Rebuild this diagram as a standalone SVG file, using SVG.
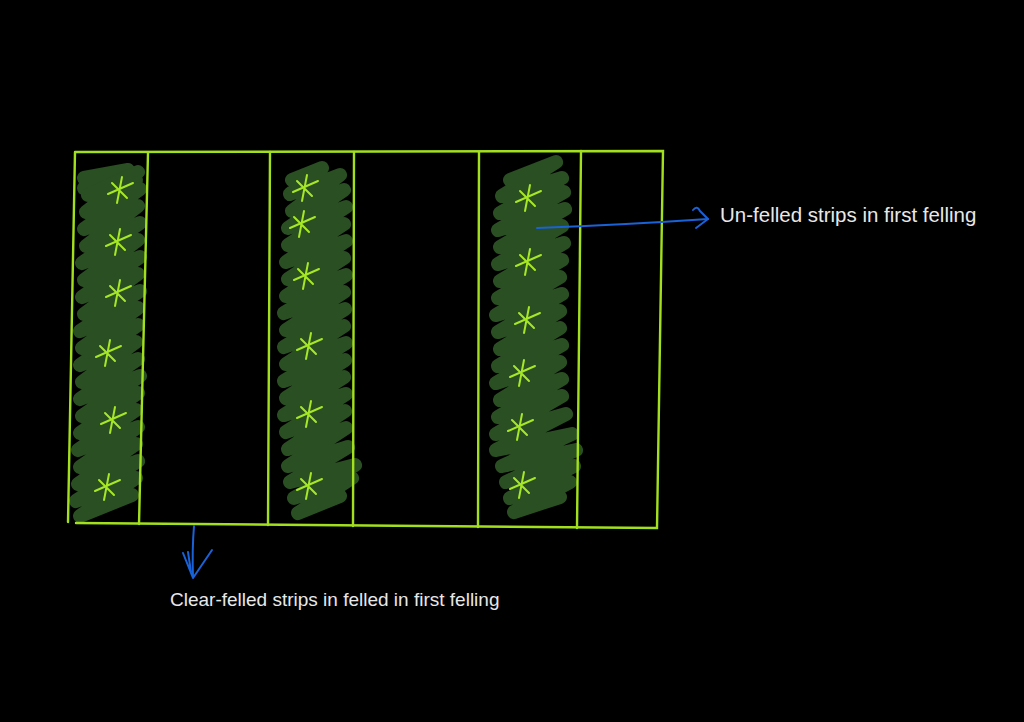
<svg xmlns="http://www.w3.org/2000/svg" width="1024" height="722" viewBox="0 0 1024 722">
<style>
.frame{fill:none;stroke:#a2e01e;stroke-width:2.4;stroke-linecap:round}
.scrib{fill:none;stroke:#2a4f22;stroke-width:14;stroke-linecap:round;stroke-linejoin:round}
.star{fill:none;stroke:#a6e825;stroke-width:2;stroke-linecap:round}
.blue{fill:none;stroke:#1a62d8;stroke-width:2;stroke-linecap:round;stroke-linejoin:round}
.lbl{font-family:"Liberation Sans",Arial,sans-serif;fill:#e8e8e8}
</style>
<defs>
<path id="st" class="star" d="M-12,4 L13,-7 M2,-13 L-3,13 M-8,-7 L7,8"/>
</defs>
<rect width="1024" height="722" fill="#000"/>
<g id="strip1">
<path class="scrib" d="M84,178 L128,170 L84,188 L136,180"/>
<path class="scrib" d="M88,195 L138,172 L86,212 L140,189 L84,229 L138,206 L86,246 L140,223 L82,263 L138,240 L84,280 L140,257 L82,297 L138,274 L84,314 L140,291 L80,331 L138,308 L82,348 L138,325 L80,365 L136,342 L82,382 L138,359 L80,399 L140,376 L82,416 L138,393 L80,433 L136,410 L78,450 L138,427 L80,467 L136,444 L78,484 L138,461 L76,501 L136,478 L80,516 L132,495"/>
<use href="#st" x="120" y="190"/><use href="#st" x="118" y="242"/><use href="#st" x="118" y="293"/>
<use href="#st" x="108" y="353"/><use href="#st" x="113" y="420"/><use href="#st" x="107" y="487"/>
</g>
<g id="strip2">
<path class="scrib" d="M292,180 L322,168 L290,194 L340,175 L292,211 L344,190 L288,228 L346,207 L288,245 L344,224 L286,262 L346,241 L288,279 L344,258 L286,296 L346,275 L284,313 L344,292 L286,330 L345,309 L284,347 L344,326 L286,364 L346,343 L284,381 L345,360 L286,398 L344,377 L284,415 L346,394 L286,432 L345,411 L288,449 L346,428 L288,466 L348,447 L290,482 L355,465 L294,498 L352,478 L298,513 L340,496"/>
<use href="#st" x="305" y="188"/><use href="#st" x="302" y="224"/><use href="#st" x="306" y="276"/>
<use href="#st" x="309" y="346"/><use href="#st" x="309" y="414"/><use href="#st" x="309" y="486"/>
</g>
<g id="strip3">
<path class="scrib" d="M510,180 L556,162 L502,196 L562,178 L500,213 L564,192 L498,230 L565,209 L500,247 L562,226 L498,264 L564,243 L500,281 L562,260 L498,298 L560,277 L496,315 L562,294 L498,332 L560,311 L500,349 L560,328 L498,366 L562,345 L496,383 L560,362 L500,400 L562,379 L498,417 L562,396 L496,434 L566,414 L496,450 L572,434 L502,466 L576,450 L506,482 L574,466 L510,498 L570,482 L514,512 L560,497"/>
<use href="#st" x="528" y="198"/><use href="#st" x="528" y="262"/><use href="#st" x="527" y="320"/>
<use href="#st" x="522" y="373"/><use href="#st" x="520" y="427"/><use href="#st" x="522" y="485"/>
</g>
<g id="frame">
<path class="frame" d="M75,152 L663,151 L657,528 L76,523 M75,152 L68,522"/>
<path class="frame" d="M148,153 L139,524 M270,152 L268,525 M354,152 L353,526 M479,152 L478,527 M581,151 L577,528"/>
</g>
<g id="connectors">
<path class="blue" d="M537,228 Q620,225 708,219"/>
<path class="blue" d="M693,210 Q697,205 700,211 L708,219 L696,228"/>
<path class="blue" d="M194,526 Q192,550 193,577"/>
<path class="blue" d="M183,553 L193,578 L212,550 M188,552 L191,572"/>
</g>
<g id="label-unfelled"><text class="lbl" x="720" y="222" font-size="20.5">Un-felled strips in first felling</text></g>
<g id="label-clear"><text class="lbl" x="170" y="606" font-size="19">Clear-felled strips in felled in first felling</text></g>
</svg>
